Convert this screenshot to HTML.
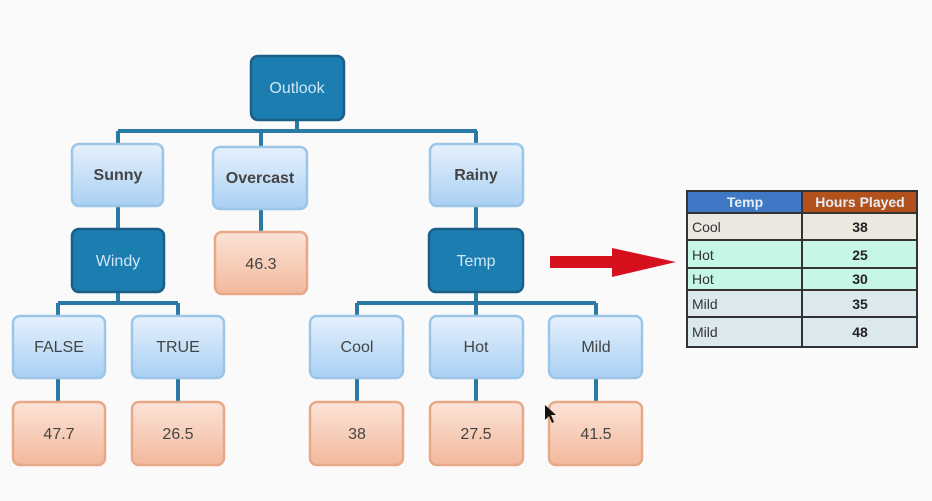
<!DOCTYPE html>
<html><head><meta charset="utf-8"><style>
html,body{margin:0;padding:0;background:#fafafa;}
svg{display:block;font-family:"Liberation Sans",sans-serif;}
</style></head><body>
<svg width="932" height="501" viewBox="0 0 932 501" xmlns="http://www.w3.org/2000/svg">
<defs>
<linearGradient id="lb" x1="0" y1="0" x2="0" y2="1"><stop offset="0" stop-color="#e6f1fc"/><stop offset="1" stop-color="#a9d0f3"/></linearGradient>
<linearGradient id="or" x1="0" y1="0" x2="0" y2="1"><stop offset="0" stop-color="#fbe3d8"/><stop offset="1" stop-color="#f3b99c"/></linearGradient>
</defs>
<rect width="932" height="501" fill="#fafafa"/>
<g stroke="#2b7aa5" stroke-width="4" fill="none">
<path d="M297 120V131M118 131H477M118 131V144M261 131V147M476 131V144"/>
<path d="M118 206V229M261 209V232M476 206V229"/>
<path d="M118 292V303M58 303H178M58 303V316M178 303V316"/>
<path d="M476 292V303M357 303H596M357 303V316M476 303V316M596 303V316"/>
<path d="M58 378V402M178 378V402M357 378V402M476 378V402M596 378V402"/>
</g>
<g stroke-width="2.5">
<rect x="251" y="56" width="93" height="64" rx="7" fill="#1c7db1" stroke="#1a5f86"/>
<rect x="72" y="229" width="92" height="63" rx="7" fill="#1c7db1" stroke="#1a5f86"/>
<rect x="429" y="229" width="94" height="63" rx="7" fill="#1c7db1" stroke="#1a5f86"/>
<g fill="url(#lb)" stroke="#9cc6e8">
<rect x="72" y="144" width="91" height="62" rx="7"/>
<rect x="213" y="147" width="94" height="62" rx="7"/>
<rect x="430" y="144" width="93" height="62" rx="7"/>
<rect x="13" y="316" width="92" height="62" rx="7"/>
<rect x="132" y="316" width="92" height="62" rx="7"/>
<rect x="310" y="316" width="93" height="62" rx="7"/>
<rect x="430" y="316" width="93" height="62" rx="7"/>
<rect x="549" y="316" width="93" height="62" rx="7"/>
</g>
<g fill="url(#or)" stroke="#e8a888">
<rect x="215" y="232" width="92" height="62" rx="7"/>
<rect x="13" y="402" width="92" height="63" rx="7"/>
<rect x="132" y="402" width="92" height="63" rx="7"/>
<rect x="310" y="402" width="93" height="63" rx="7"/>
<rect x="430" y="402" width="93" height="63" rx="7"/>
<rect x="549" y="402" width="93" height="63" rx="7"/>
</g>
</g>
<g font-size="16" text-anchor="middle" fill="#cfe6f5">
<text x="297" y="93">Outlook</text>
<text x="118" y="266">Windy</text>
<text x="476" y="266">Temp</text>
</g>
<g font-size="16" text-anchor="middle" fill="#444">
<text x="118" y="180" font-weight="bold">Sunny</text>
<text x="260" y="183" font-weight="bold">Overcast</text>
<text x="476" y="180" font-weight="bold">Rainy</text>
<text x="59" y="352">FALSE</text>
<text x="178" y="352">TRUE</text>
<text x="357" y="352">Cool</text>
<text x="476" y="352">Hot</text>
<text x="596" y="352">Mild</text>
<text x="261" y="269">46.3</text>
<text x="59" y="439">47.7</text>
<text x="178" y="439">26.5</text>
<text x="357" y="439">38</text>
<text x="476" y="439">27.5</text>
<text x="596" y="439">41.5</text>
</g>
<path d="M550 256H612V248L676 262L612 277V268H550Z" fill="#d7101e"/>
<g>
<rect x="686" y="190" width="232" height="158" fill="#333"/>
<rect x="688" y="192" width="113" height="20" fill="#3f78c4"/>
<rect x="803" y="192" width="113" height="20" fill="#b2511c"/>
<rect x="688" y="214" width="113" height="25" fill="#ece8e0"/><rect x="803" y="214" width="113" height="25" fill="#ece8e0"/>
<rect x="688" y="241" width="113" height="26" fill="#c6f6e4"/><rect x="803" y="241" width="113" height="26" fill="#c6f6e4"/>
<rect x="688" y="269" width="113" height="20" fill="#c6f6e4"/><rect x="803" y="269" width="113" height="20" fill="#c6f6e4"/>
<rect x="688" y="291" width="113" height="25" fill="#dbe9ef"/><rect x="803" y="291" width="113" height="25" fill="#dbe9ef"/>
<rect x="688" y="318" width="113" height="28" fill="#dbe9ef"/><rect x="803" y="318" width="113" height="28" fill="#dbe9ef"/>
<g font-size="14" font-weight="bold" fill="#e8eef8" text-anchor="middle">
<text x="745" y="207">Temp</text><text x="860" y="207">Hours Played</text>
</g>
<g font-size="14" fill="#333">
<text x="692" y="232">Cool</text><text x="692" y="260">Hot</text><text x="692" y="284">Hot</text>
<text x="692" y="309">Mild</text><text x="692" y="337">Mild</text>
</g>
<g font-size="14" font-weight="bold" fill="#222" text-anchor="middle">
<text x="860" y="232">38</text><text x="860" y="260">25</text><text x="860" y="284">30</text>
<text x="860" y="309">35</text><text x="860" y="337">48</text>
</g>
</g>
<path d="M545 405L545 420L549 416L552 423L554 422L551 415L556 415Z" fill="#111"/>
</svg>
</body></html>
